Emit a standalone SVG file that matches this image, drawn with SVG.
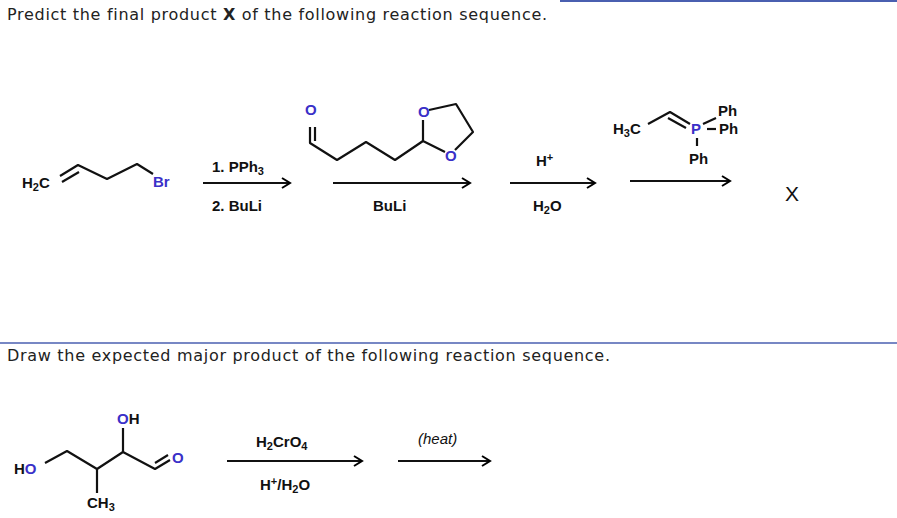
<svg xmlns="http://www.w3.org/2000/svg" width="897" height="518" viewBox="0 0 897 518">
<defs><marker id="ah" markerWidth="12" markerHeight="12" refX="10" refY="6" orient="auto" markerUnits="userSpaceOnUse"><path d="M2,1 L10,6 L2,11" fill="none" stroke="#000" stroke-width="2"/></marker></defs>
<style>
.h{font-family:"DejaVu Sans",sans-serif;font-size:16px;letter-spacing:0.7px;fill:#222}
.c{font-family:"Liberation Sans",Arial,sans-serif;font-size:15px;font-weight:bold;fill:#111}
.b{fill:#3a30c8}
.s{font-size:11px}
.bd{stroke:#111;stroke-width:2.2;fill:none;stroke-linejoin:round}
.ar{stroke:#111;stroke-width:2;marker-end:url(#ah)}
</style>
<rect width="897" height="518" fill="#fff"/>
<line x1="560" y1="1" x2="897" y2="1" stroke="#4a5fb0" stroke-width="2"/>
<line x1="0" y1="343" x2="897" y2="343" stroke="#4a5fb0" stroke-width="1.5"/>
<text class="h" x="7" y="20">Predict the final product <tspan font-weight="bold">X</tspan> of the following reaction sequence.</text>
<text class="h" x="7" y="361">Draw the expected major product of the following reaction sequence.</text>
<g id="bromide">
<text class="c" x="22" y="188">H<tspan class="s" dy="3">2</tspan><tspan dy="-3">C</tspan></text>
<path class="bd" d="M60,176 L78,165 L107,179 L137,164 L153,174"/>
<line class="bd" x1="62" y1="182" x2="79" y2="172"/>
<text class="c b" x="153" y="187">Br</text>
</g>
<g id="aldehyde">
<text class="c b" x="305" y="115">O</text>
<path class="bd" d="M310,127 L310,143 L337,160 L366,142 L395,160 L423,141"/>
<line class="bd" x1="315" y1="127" x2="315" y2="141"/>
<path class="bd" d="M423,141 L423,120 M429,110 L456,104 L473,132 L455,150 M423,141 L445,152"/>
<text class="c b" x="418" y="117">O</text>
<text class="c b" x="445" y="161">O</text>
</g>
<g id="ylide">
<text class="c" x="613" y="134">H<tspan class="s" dy="3">3</tspan><tspan dy="-3">C</tspan></text>
<path class="bd" d="M648,124 L670,112 L690,124"/>
<line class="bd" x1="668" y1="118" x2="686" y2="128"/>
<text class="c b" x="691" y="134">P</text>
<line class="bd" x1="703" y1="124" x2="716" y2="118"/>
<line class="bd" x1="707" y1="129" x2="716" y2="129"/>
<line class="bd" x1="697" y1="138" x2="697" y2="146"/>
<text class="c" x="718" y="116">Ph</text>
<text class="c" x="719" y="134">Ph</text>
<text class="c" x="689" y="164">Ph</text>
</g>
<g id="diol">
<text class="c" x="14" y="474">H<tspan class="b">O</tspan></text>
<path class="bd" d="M45,463 L67,451 L97,469 L123,452 L155,469 L170,460"/>
<line class="bd" x1="155" y1="463" x2="168" y2="455"/>
<line class="bd" x1="123" y1="452" x2="123" y2="428"/>
<line class="bd" x1="97" y1="469" x2="97" y2="493"/>
<text class="c" x="117" y="424"><tspan class="b">O</tspan>H</text>
<text class="c b" x="172" y="463">O</text>
<text class="c" x="87" y="508">CH<tspan class="s" dy="3">3</tspan></text>
</g>
<g id="X"><text x="785" y="201" font-family="Liberation Sans,sans-serif" font-size="21" fill="#111">X</text></g>
<g id="connectors">
<line class="ar" x1="203" y1="183" x2="290" y2="183"/>
<line class="ar" x1="333" y1="183" x2="470" y2="183"/>
<line class="ar" x1="510" y1="183" x2="595" y2="183"/>
<line class="ar" x1="630" y1="181" x2="730" y2="181"/>
<line class="ar" x1="227" y1="461" x2="362" y2="461"/>
<line class="ar" x1="398" y1="461" x2="490" y2="461"/>
</g>
<g id="labels">
<text class="c" x="212" y="172">1. PPh<tspan class="s" dy="3">3</tspan></text>
<text class="c" x="212" y="211">2. BuLi</text>
<text class="c" x="373" y="211">BuLi</text>
<text class="c" x="536" y="166">H<tspan class="s" dy="-5">+</tspan></text>
<text class="c" x="533" y="211">H<tspan class="s" dy="3">2</tspan><tspan dy="-3">O</tspan></text>
<text class="c" x="256" y="447">H<tspan class="s" dy="3">2</tspan><tspan dy="-3">CrO</tspan><tspan class="s" dy="3">4</tspan></text>
<text class="c" x="260" y="490">H<tspan class="s" dy="-5">+</tspan><tspan dy="5">/H</tspan><tspan class="s" dy="3">2</tspan><tspan dy="-3">O</tspan></text>
<text x="418" y="444" font-family="Liberation Sans,sans-serif" font-size="15" font-style="italic" fill="#111">(heat)</text>
</g>
</svg>
